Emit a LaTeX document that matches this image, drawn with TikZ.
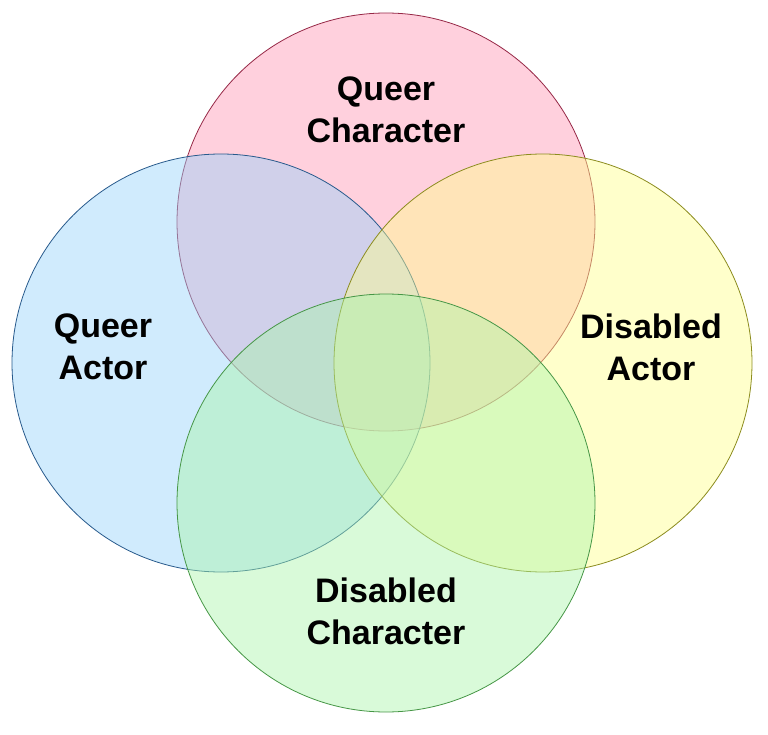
\documentclass[tikz,border=0pt]{standalone}
\usepackage{fontspec}
\setmainfont{Liberation Sans}
\definecolor{pinkfill}{RGB}{255,150,180}
\definecolor{pinkline}{RGB}{150,40,70}
\definecolor{bluefill}{RGB}{150,210,250}
\definecolor{blueline}{RGB}{40,90,140}
\definecolor{yellowfill}{RGB}{255,255,140}
\definecolor{yellowline}{RGB}{140,140,30}
\definecolor{greenfill}{RGB}{170,245,170}
\definecolor{greenline}{RGB}{70,150,70}
\tikzset{
  setcircle/.style={line width=0.8pt, fill opacity=0.45},
  setlabel/.style={font=\fontsize{34}{42}\selectfont\bfseries, align=center}
}
\begin{document}
\begin{tikzpicture}[x=1pt,y=-1pt]
\useasboundingbox (0,0) rectangle (768,735);
\filldraw [setcircle, fill=pinkfill, draw=pinkline] (386,222) circle (209);
\filldraw [setcircle, fill=bluefill, draw=blueline] (221,363) circle (209);
\filldraw [setcircle, fill=yellowfill, draw=yellowline] (543,363) circle (209);
\filldraw [setcircle, fill=greenfill, draw=greenline] (386,503) circle (209);
\node[setlabel] (qc) at (386,110) {Queer\\Character};
\node[setlabel] (qa) at (103,347) {Queer\\Actor};
\node[setlabel] (da) at (651,347) {Disabled\\Actor};
\node[setlabel] (dc) at (386,611) {Disabled\\Character};
\end{tikzpicture}
\end{document}
